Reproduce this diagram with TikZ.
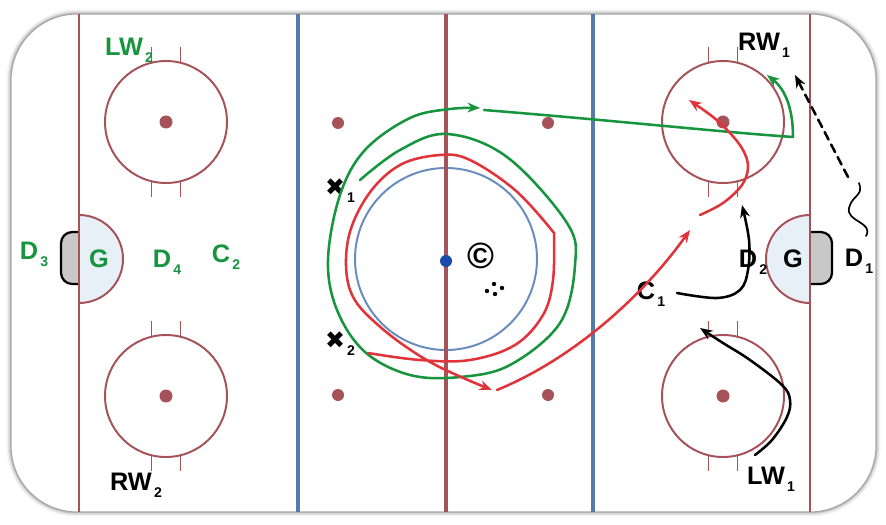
\documentclass[tikz,border=0pt]{standalone}
\usepackage{fontspec}
\setmainfont{Liberation Sans}
\newfontfamily\marksfont{DejaVu Sans}
\usetikzlibrary{arrows.meta}
\definecolor{rinkred}{RGB}{165,82,88}
\definecolor{bluelin}{RGB}{85,122,172}
\definecolor{ringblue}{RGB}{105,140,190}
\definecolor{dotblue}{RGB}{25,75,170}
\definecolor{teamgreen}{RGB}{22,148,62}
\definecolor{skatered}{RGB}{225,52,58}
\definecolor{creasefill}{RGB}{232,240,247}
\definecolor{netgray}{RGB}{200,200,200}
\newcommand{\lowsub}[1]{\kern1.5pt\raisebox{-5pt}{\fontsize{10}{12}\selectfont#1}}

\begin{document}
\begin{tikzpicture}[x=0.025cm, y=-0.025cm, >={Stealth[length=9pt,width=7pt]}, font=\fontsize{18}{20}\selectfont\bfseries]
\tikzstyle{rink}=[draw=rinkred, line width=1.4pt]
\tikzstyle{who}=[inner sep=0pt, text=black]
\tikzstyle{mate}=[who, text=teamgreen]
\tikzstyle{skate}=[line width=1.8pt, line cap=round, line join=round]
\useasboundingbox (0,0) rectangle (886,525);
\foreach \w/\o in {9/0.05,6/0.08,3/0.15}
  \draw[black, opacity=\o, line width=\w*0.7pt, rounded corners=1.65cm] (11,14) rectangle (876,512);
\filldraw[fill=white, draw=gray!70, line width=0.8pt, rounded corners=1.65cm] (11,14) rectangle (876,512);
\filldraw[rink, fill=creasefill] (79,215) arc[start angle=-90, end angle=90, radius=44] -- cycle;
\filldraw[rink, fill=creasefill] (810,215) arc[start angle=-90, end angle=-270, radius=44] -- cycle;
\filldraw[fill=netgray, draw=black, line width=1.6pt, rounded corners=8pt] (79,232) -- (61,232) -- (61,284) -- (79,284);
\filldraw[fill=netgray, draw=black, line width=1.6pt, rounded corners=8pt] (810,232) -- (832,232) -- (832,284) -- (810,284);
\draw[rink] (79,14) -- (79,512);
\draw[rink] (810,14) -- (810,512);
\draw[bluelin, line width=2.5pt] (298,14) -- (298,512);
\draw[bluelin, line width=2.5pt] (593,14) -- (593,512);
\foreach \cx/\cy in {166/122,166/396,723/122,723/396} {
  \draw[rink] (\cx,\cy) circle[radius=61];
  \draw[rink] (\cx-14.5,\cy-59) -- (\cx-14.5,\cy-75);
  \draw[rink] (\cx+14.5,\cy-59) -- (\cx+14.5,\cy-75);
  \draw[rink] (\cx-14.5,\cy+59) -- (\cx-14.5,\cy+75);
  \draw[rink] (\cx+14.5,\cy+59) -- (\cx+14.5,\cy+75);
  \fill[rinkred] (\cx,\cy) circle[radius=6.5];
}
\foreach \p in {(338,123),(548,123),(338,395),(548,395)}
  \fill[rinkred] \p circle[radius=6];
\draw[ringblue, line width=1.4pt] (446,259) circle[radius=91];
\draw[rinkred, line width=3.5pt] (446,14) -- (446,512);
\fill[dotblue] (446,261) circle[radius=6];

\node[mate] (lw2) at (129,50) {LW\lowsub{2}};
\node[mate] (d3) at (34,254) {D\lowsub{3}};
\node[mate] (d4) at (167,262) {D\lowsub{4}};
\node[mate] (c2) at (226,257) {C\lowsub{2}};
\node[mate] (g2) at (99,259) {G};
\node[who] (rw2) at (136,485) {RW\lowsub{2}};
\node[who] (x1) at (340,191) {{\marksfont\fontsize{17}{18}\selectfont ✖}\lowsub{1}};
\node[who] (x2) at (340,344) {{\marksfont\fontsize{17}{18}\selectfont ✖}\lowsub{2}};
\node[who, font=\fontsize{26}{28}\selectfont\bfseries] (puck) at (481,256) {©};
\foreach \p in {(494,284),(487,291),(502,288),(495,294)}
  \fill \p circle[radius=2.2];
\node[who] (rw1) at (764,45) {RW\lowsub{1}};
\node[who] (g1) at (793,259) {G};
\node[who] (d1) at (859,261) {D\lowsub{1}};
\node[who] (d2) at (753,262) {D\lowsub{2}};
\node[who] (c1) at (651,294) {C\lowsub{1}};
\node[who] (lw1) at (771,479) {LW\lowsub{1}};

\draw[skate, teamgreen, ->] plot[smooth, tension=0.6] coordinates {(360,180) (400,150) (447,134) (507,157) (567,223) (575,265) (560,323) (510,365) (460,377) (410,375) (365,352) (337,310) (328,260) (340,195) (365,150) (410,118) (450,109) (480,108)};
\draw[skate, teamgreen, ->] (484,110) .. controls (620,121) and (720,132) .. (793,137) .. controls (793,110) and (786,90) .. (767,75);
\draw[skate, skatered, ->] plot[smooth, tension=0.6] coordinates {(368,353) (420,360) (470,360) (515,345) (543,315) (553,280) (554,233)}
  -- plot[smooth, tension=0.6] coordinates {(550,228) (515,190) (470,160) (440,155) (400,165) (368,195) (348,240) (350,290) (378,325) (430,362) (492,390)};
\draw[skate, skatered, ->] (497,390) .. controls (570,360) and (640,300) .. (690,230);
\draw[skate, skatered, ->] plot[smooth, tension=0.6] coordinates {(700,215) (723,203) (742,185) (748,167) (743,150) (730,133) (713,117) (689,100)};
\draw[skate, ->] plot[smooth, tension=0.6] coordinates {(677,293) (717,298) (740,290) (748,270) (749,240) (742,205)};
\draw[skate, ->] plot[smooth, tension=0.6] coordinates {(755,455) (772,440) (787,417) (790,400) (782,385) (750,360) (723,343) (700,328)};
\draw[line width=1.2pt, line cap=round] (866,236) .. controls (874,222) and (846,222) .. (849,208) .. controls (852,195) and (864,196) .. (859,183);
\draw[skate, dash pattern=on 6pt off 4pt, ->] (848,177) -- (795,75);
\end{tikzpicture}
\end{document}
